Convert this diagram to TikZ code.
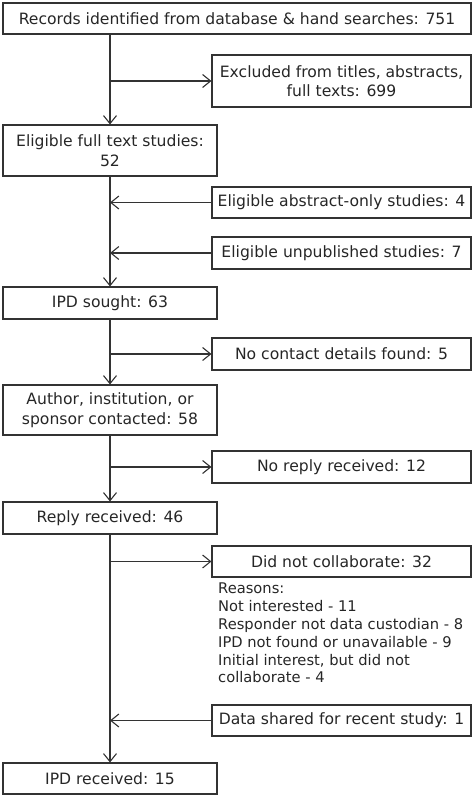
\documentclass[tikz,border=0pt]{standalone}
\usepackage{fontspec}
\setmainfont{DejaVu Sans}
\usetikzlibrary{arrows.meta}
\begin{document}
\begin{tikzpicture}[x=1pt,y=-1pt,
  box/.style={draw=black!80,line width=1.1pt,inner sep=0pt,align=center,text=black!85,font=\fontsize{15.6}{19.5}\selectfont},
  lbox/.style={box,minimum width=214pt},
  rbox/.style={box,minimum width=259pt},
  conn/.style={draw=black!80,line width=1.1pt,-{Straight Barb[length=8pt,width=13pt,line width=1.1pt]}},
  line/.style={draw=black!80,line width=1.1pt}]
\useasboundingbox (0,0) rectangle (474,798);
\node[box,minimum width=468pt,minimum height=31pt] (b1) at (237,18.5) {Records identified from database \& hand searches: 751};
\node[rbox,minimum height=52pt] (b2) at (341.5,81) {Excluded from titles, abstracts,\\full texts: 699};
\node[lbox,minimum height=51pt] (b3) at (110,150.5) {Eligible full text studies:\\52};
\node[rbox,minimum height=31pt] (b4) at (341.5,202.5) {Eligible abstract-only studies: 4};
\node[rbox,minimum height=32pt] (b5) at (341.5,253) {Eligible unpublished studies: 7};
\node[lbox,minimum height=32pt] (b6) at (110,303) {IPD sought: 63};
\node[rbox,minimum height=32pt] (b7) at (341.5,354) {No contact details found: 5};
\node[lbox,minimum height=50pt] (b8) at (110,410) {Author, institution, or\\sponsor contacted: 58};
\node[rbox,minimum height=32pt] (b9) at (341.5,467) {No reply received: 12};
\node[lbox,minimum height=32pt] (b10) at (110,518) {Reply received: 46};
\node[rbox,minimum height=31pt] (b11) at (341.5,561.5) {Did not collaborate: 32};
\node[anchor=north west,inner sep=0pt,align=left,text=black!85,font=\fontsize{14.7}{17.8}\selectfont] (rs) at (218,583) {Reasons:\\Not interested - 11\\Responder not data custodian - 8\\IPD not found or unavailable - 9\\Initial interest, but did not\\collaborate - 4};
\node[rbox,minimum height=31pt] (b12) at (341.5,720.5) {Data shared for recent study: 1};
\node[lbox,minimum height=31pt] (b13) at (110,778.5) {IPD received: 15};
\coordinate (j1) at (b3.north |- b2.west);
\coordinate (j4) at (b3.north |- b4.west);
\coordinate (j5) at (b3.north |- b5.west);
\coordinate (j7) at (b6.south |- b7.west);
\coordinate (j9) at (b8.south |- b9.west);
\coordinate (j11) at (b10.south |- b11.west);
\coordinate (j12) at (b10.south |- b12.west);
\draw[conn] (b3.north |- b1.south) -- (b3.north);
\draw[conn] (j1) -- (b2.west);
\draw[conn] (b3.south) -- (b6.north);
\draw[conn] (b4.west) -- (j4);
\draw[conn] (b5.west) -- (j5);
\draw[conn] (b6.south) -- (b8.north);
\draw[conn] (j7) -- (b7.west);
\draw[conn] (b8.south) -- (b10.north);
\draw[conn] (j9) -- (b9.west);
\draw[conn] (b10.south) -- (b13.north);
\draw[conn] (j11) -- (b11.west);
\draw[conn] (b12.west) -- (j12);
\end{tikzpicture}
\end{document}
